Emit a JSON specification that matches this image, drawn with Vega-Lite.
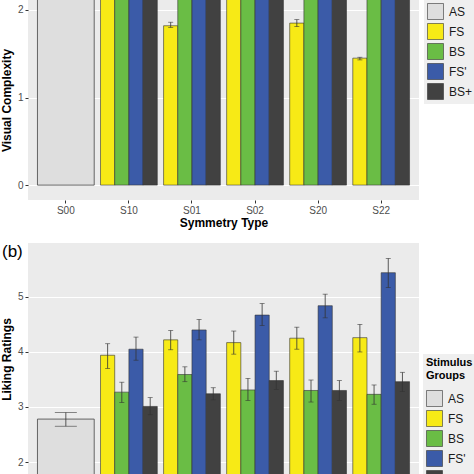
{
  "$schema": "https://vega.github.io/schema/vega-lite/v6.json",
  "padding": {"left": 0, "top": 0, "right": 0, "bottom": 0},
  "background": "white",
  "datasets": {
    "vc": [
      {"sym": "S00", "grp": "AS", "val": 2.6, "lo": 2.55, "hi": 2.65},
      {"sym": "S10", "grp": "FS", "val": 2.4, "lo": 2.36, "hi": 2.44},
      {"sym": "S10", "grp": "BS", "val": 2.7, "lo": 2.66, "hi": 2.74},
      {"sym": "S10", "grp": "FS'", "val": 2.9, "lo": 2.86, "hi": 2.94},
      {"sym": "S10", "grp": "BS+", "val": 3.1, "lo": 3.06, "hi": 3.14},
      {"sym": "S01", "grp": "FS", "val": 1.82, "lo": 1.8, "hi": 1.86},
      {"sym": "S01", "grp": "BS", "val": 2.6, "lo": 2.56, "hi": 2.64},
      {"sym": "S01", "grp": "FS'", "val": 2.8, "lo": 2.76, "hi": 2.84},
      {"sym": "S01", "grp": "BS+", "val": 3.0, "lo": 2.96, "hi": 3.04},
      {"sym": "S02", "grp": "FS", "val": 2.3, "lo": 2.26, "hi": 2.34},
      {"sym": "S02", "grp": "BS", "val": 2.7, "lo": 2.66, "hi": 2.74},
      {"sym": "S02", "grp": "FS'", "val": 2.9, "lo": 2.86, "hi": 2.94},
      {"sym": "S02", "grp": "BS+", "val": 3.1, "lo": 3.06, "hi": 3.14},
      {"sym": "S20", "grp": "FS", "val": 1.85, "lo": 1.81, "hi": 1.89},
      {"sym": "S20", "grp": "BS", "val": 2.6, "lo": 2.56, "hi": 2.64},
      {"sym": "S20", "grp": "FS'", "val": 2.8, "lo": 2.76, "hi": 2.84},
      {"sym": "S20", "grp": "BS+", "val": 3.0, "lo": 2.96, "hi": 3.04},
      {"sym": "S22", "grp": "FS", "val": 1.45, "lo": 1.43, "hi": 1.46},
      {"sym": "S22", "grp": "BS", "val": 2.5, "lo": 2.46, "hi": 2.54},
      {"sym": "S22", "grp": "FS'", "val": 2.7, "lo": 2.66, "hi": 2.74},
      {"sym": "S22", "grp": "BS+", "val": 2.9, "lo": 2.86, "hi": 2.94}
    ],
    "lk": [
      {"sym": "S00", "grp": "AS", "val": 2.78, "lo": 2.65, "hi": 2.9},
      {"sym": "S10", "grp": "FS", "val": 3.94, "lo": 3.7, "hi": 4.15},
      {"sym": "S10", "grp": "BS", "val": 3.27, "lo": 3.08, "hi": 3.45},
      {"sym": "S10", "grp": "FS'", "val": 4.05, "lo": 3.85, "hi": 4.27},
      {"sym": "S10", "grp": "BS+", "val": 3.01, "lo": 2.86, "hi": 3.17},
      {"sym": "S01", "grp": "FS", "val": 4.22, "lo": 4.04, "hi": 4.39},
      {"sym": "S01", "grp": "BS", "val": 3.59, "lo": 3.46, "hi": 3.73},
      {"sym": "S01", "grp": "FS'", "val": 4.4, "lo": 4.22, "hi": 4.59},
      {"sym": "S01", "grp": "BS+", "val": 3.24, "lo": 3.13, "hi": 3.35},
      {"sym": "S02", "grp": "FS", "val": 4.17, "lo": 3.96, "hi": 4.38},
      {"sym": "S02", "grp": "BS", "val": 3.31, "lo": 3.12, "hi": 3.52},
      {"sym": "S02", "grp": "FS'", "val": 4.67, "lo": 4.48, "hi": 4.88},
      {"sym": "S02", "grp": "BS+", "val": 3.48, "lo": 3.32, "hi": 3.65},
      {"sym": "S20", "grp": "FS", "val": 4.25, "lo": 4.05, "hi": 4.45},
      {"sym": "S20", "grp": "BS", "val": 3.3, "lo": 3.09, "hi": 3.49},
      {"sym": "S20", "grp": "FS'", "val": 4.84, "lo": 4.62, "hi": 5.05},
      {"sym": "S20", "grp": "BS+", "val": 3.3, "lo": 3.12, "hi": 3.48},
      {"sym": "S22", "grp": "FS", "val": 4.26, "lo": 4.0, "hi": 4.5},
      {"sym": "S22", "grp": "BS", "val": 3.23, "lo": 3.05, "hi": 3.4},
      {"sym": "S22", "grp": "FS'", "val": 5.44, "lo": 5.17, "hi": 5.7},
      {"sym": "S22", "grp": "BS+", "val": 3.46, "lo": 3.28, "hi": 3.63}
    ]
  },
  "config": {
    "font": "Liberation Sans",
    "view": {"fill": "#EBEBEB", "stroke": null},
    "axis": {
      "domain": false,
      "labelFontSize": 10,
      "labelColor": "#4D4D4D",
      "tickColor": "#333333",
      "tickSize": 3,
      "labelPadding": 2,
      "gridColor": "white",
      "gridWidth": 1.2,
      "titleFontSize": 12,
      "titleFontWeight": "bold",
      "titleColor": "black"
    },
    "legend": {
      "symbolType": "square",
      "symbolSize": 256,
      "symbolStrokeColor": "#333333",
      "symbolStrokeWidth": 0.6,
      "symbolOpacity": 1,
      "labelFontSize": 12,
      "labelColor": "#1A1A1A",
      "labelOffset": 5,
      "rowPadding": 1,
      "padding": 3,
      "fillColor": "#EFEFEF",
      "titleFontSize": 11,
      "titleFontWeight": "bold",
      "titleColor": "black"
    }
  },
  "resolve": {"legend": {"color": "independent"}, "scale": {"color": "independent"}},
  "spacing": 15,
  "vconcat": [
    {
      "width": 391,
      "height": 200,
      "data": {"name": "vc"},
      "encoding": {
        "x": {"field": "sym", "type": "nominal", "sort": ["S00", "S10", "S01", "S02", "S20", "S22"],
          "scale": {"domain": ["S00", "S10", "S01", "S02", "S20", "S22"], "paddingInner": 0.1, "paddingOuter": 0.15},
          "axis": {"title": "Symmetry Type", "labelAngle": 0, "bandPosition": 0.5, "titlePadding": 2}},
        "y": {"type": "quantitative",
          "scale": {"domain": [-0.17, 2.114], "nice": false, "zero": false},
          "axis": {"title": "Visual Complexity", "values": [0, 0.5, 1, 1.5, 2], "titlePadding": 4, "format": "d",
            "labelExpr": "datum.value % 1 ? '' : datum.label",
            "tickOpacity": {"condition": {"test": "datum.value % 1 != 0", "value": 0}, "value": 1},
            "gridWidth": {"condition": {"test": "datum.value % 1 != 0", "value": 0.5}, "value": 1.2}}}
      },
      "layer": [
        {
          "transform": [{"filter": "datum.grp == 'AS'"}],
          "mark": {"type": "bar", "stroke": "#444444", "strokeWidth": 0.8, "clip": true},
          "encoding": {
            "y": {"field": "val", "type": "quantitative"},
            "y2": {"datum": 0},
            "color": {"field": "grp", "type": "nominal",
              "scale": {"domain": ["AS", "FS", "BS", "FS'", "BS+"], "range": ["#DEDEDE", "#F7EA16", "#6ABD45", "#3B5BA8", "#414141"]},
              "legend": {"title": null, "orient": "right", "offset": 5}}
          }
        },
        {
          "transform": [{"filter": "datum.grp != 'AS'"}],
          "mark": {"type": "bar", "stroke": "#333333", "strokeWidth": 0.6, "clip": true},
          "encoding": {
            "xOffset": {"field": "grp", "type": "nominal", "scale": {"domain": ["FS", "BS", "FS'", "BS+"], "paddingInner": 0, "paddingOuter": 0}},
            "y": {"field": "val", "type": "quantitative"},
            "y2": {"datum": 0},
            "color": {"field": "grp", "type": "nominal"}
          }
        },
        {
          "transform": [{"filter": "datum.grp != 'AS'"}],
          "mark": {"type": "rule", "color": "#333333", "strokeWidth": 0.8, "clip": true},
          "encoding": {
            "xOffset": {"field": "grp", "type": "nominal"},
            "y": {"field": "lo", "type": "quantitative"},
            "y2": {"field": "hi"}
          }
        },
        {
          "transform": [{"filter": "datum.grp != 'AS'"}],
          "mark": {"type": "tick", "color": "#333333", "thickness": 0.8, "size": 5, "clip": true},
          "encoding": {
            "xOffset": {"field": "grp", "type": "nominal"},
            "y": {"field": "lo", "type": "quantitative"}
          }
        },
        {
          "transform": [{"filter": "datum.grp != 'AS'"}],
          "mark": {"type": "tick", "color": "#333333", "thickness": 0.8, "size": 5, "clip": true},
          "encoding": {
            "xOffset": {"field": "grp", "type": "nominal"},
            "y": {"field": "hi", "type": "quantitative"}
          }
        }
      ]
    },
    {
      "width": 391,
      "height": 232,
      "title": {"text": "(b)", "anchor": "start", "frame": "group", "fontSize": 17, "fontWeight": "normal", "color": "black", "offset": 0, "dx": -26, "dy": 18},
      "data": {"name": "lk"},
      "encoding": {
        "x": {"field": "sym", "type": "nominal", "sort": ["S00", "S10", "S01", "S02", "S20", "S22"],
          "scale": {"domain": ["S00", "S10", "S01", "S02", "S20", "S22"], "paddingInner": 0.1, "paddingOuter": 0.15},
          "axis": {"title": null, "labels": false, "ticks": false, "bandPosition": 0.5}},
        "y": {"type": "quantitative",
          "scale": {"domain": [1.764, 5.98], "nice": false, "zero": false},
          "axis": {"title": "Liking Ratings", "values": [2, 2.5, 3, 3.5, 4, 4.5, 5, 5.5], "titlePadding": 4, "format": "d",
            "labelExpr": "datum.value % 1 ? '' : datum.label",
            "tickOpacity": {"condition": {"test": "datum.value % 1 != 0", "value": 0}, "value": 1},
            "gridWidth": {"condition": {"test": "datum.value % 1 != 0", "value": 0.5}, "value": 1.2}}}
      },
      "layer": [
        {
          "transform": [{"filter": "datum.grp == 'AS'"}],
          "mark": {"type": "bar", "stroke": "#444444", "strokeWidth": 0.8, "clip": true},
          "encoding": {
            "y": {"field": "val", "type": "quantitative"},
            "y2": {"datum": 0},
            "color": {"field": "grp", "type": "nominal",
              "scale": {"domain": ["AS", "FS", "BS", "FS'", "BS+"], "range": ["#DEDEDE", "#F7EA16", "#6ABD45", "#3B5BA8", "#414141"]},
              "legend": {"title": ["Stimulus", "Groups"], "orient": "none", "legendX": 395, "legendY": 111, "titlePadding": 9}}
          }
        },
        {
          "transform": [{"filter": "datum.grp != 'AS'"}],
          "mark": {"type": "bar", "stroke": "#333333", "strokeWidth": 0.6, "clip": true},
          "encoding": {
            "xOffset": {"field": "grp", "type": "nominal", "scale": {"domain": ["FS", "BS", "FS'", "BS+"], "paddingInner": 0, "paddingOuter": 0}},
            "y": {"field": "val", "type": "quantitative"},
            "y2": {"datum": 0},
            "color": {"field": "grp", "type": "nominal"}
          }
        },
        {
          "transform": [{"filter": "datum.grp == 'AS'"}],
          "mark": {"type": "rule", "color": "#333333", "strokeWidth": 0.8, "clip": true},
          "encoding": {
            "y": {"field": "lo", "type": "quantitative"},
            "y2": {"field": "hi"}
          }
        },
        {
          "transform": [{"filter": "datum.grp == 'AS'"}],
          "mark": {"type": "tick", "color": "#333333", "thickness": 0.8, "size": 22, "clip": true},
          "encoding": {"y": {"field": "lo", "type": "quantitative"}}
        },
        {
          "transform": [{"filter": "datum.grp == 'AS'"}],
          "mark": {"type": "tick", "color": "#333333", "thickness": 0.8, "size": 22, "clip": true},
          "encoding": {"y": {"field": "hi", "type": "quantitative"}}
        },
        {
          "transform": [{"filter": "datum.grp != 'AS'"}],
          "mark": {"type": "rule", "color": "#333333", "strokeWidth": 0.8, "clip": true},
          "encoding": {
            "xOffset": {"field": "grp", "type": "nominal"},
            "y": {"field": "lo", "type": "quantitative"},
            "y2": {"field": "hi"}
          }
        },
        {
          "transform": [{"filter": "datum.grp != 'AS'"}],
          "mark": {"type": "tick", "color": "#333333", "thickness": 0.8, "size": 5, "clip": true},
          "encoding": {
            "xOffset": {"field": "grp", "type": "nominal"},
            "y": {"field": "lo", "type": "quantitative"}
          }
        },
        {
          "transform": [{"filter": "datum.grp != 'AS'"}],
          "mark": {"type": "tick", "color": "#333333", "thickness": 0.8, "size": 5, "clip": true},
          "encoding": {
            "xOffset": {"field": "grp", "type": "nominal"},
            "y": {"field": "hi", "type": "quantitative"}
          }
        }
      ]
    }
  ]
}
